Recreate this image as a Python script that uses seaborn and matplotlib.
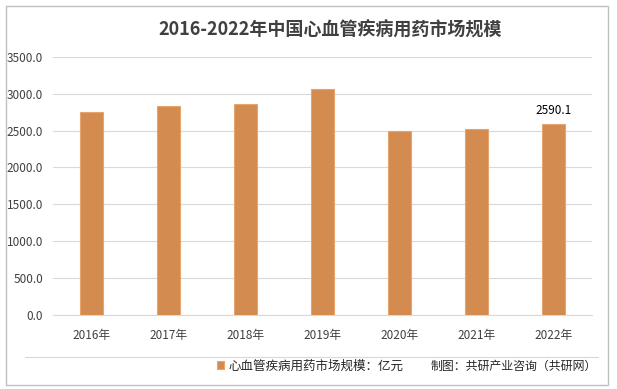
import matplotlib
matplotlib.use("Agg")
import matplotlib.pyplot as plt
import seaborn as sns
import pandas as pd
from matplotlib.patches import Rectangle

years = ["2016年", "2017年", "2018年", "2019年", "2020年", "2021年", "2022年"]
values = [2750.0, 2830.0, 2855.0, 3065.0, 2490.0, 2525.0, 2590.1]
labeled_year = "2022年"
y_ticks = [0, 500, 1000, 1500, 2000, 2500, 3000, 3500]
title = "2016-2022年中国心血管疾病用药市场规模"
series_name = "心血管疾病用药市场规模：亿元"
source = "制图：共研产业咨询（共研网）"

sns.set_theme(style="white")
plt.rcParams["font.family"] = ["Noto Sans CJK SC", "DejaVu Sans"]

df = pd.DataFrame({"year": years, "value": values})

fig = plt.figure(figsize=(6.17, 3.89), dpi=100)
ax = fig.add_axes([0.086, 0.190, 0.873, 0.664])

bar_color = "#D38B4F"
sns.barplot(data=df, x="year", y="value", color=bar_color, width=0.3,
            edgecolor="#E6A56E", linewidth=0.8, ax=ax, label=series_name,
            saturation=1, zorder=3)
handles, labels = ax.get_legend_handles_labels()
if ax.get_legend() is not None:
    ax.get_legend().remove()

ax.set_ylim(0, 3500)
ax.set_yticks(y_ticks)
ax.set_yticklabels([f"{v:.1f}" for v in y_ticks], fontsize=8.5, color="#404040")
ax.set_xlim(-0.5, len(years) - 0.5)
ax.tick_params(axis="x", labelsize=8.5, colors="#404040", length=0, pad=10)
ax.tick_params(axis="y", length=0, pad=7)
ax.set_xlabel("")
ax.set_ylabel("")
ax.grid(axis="y", color="#D9D9D9", linewidth=0.8, zorder=0)
for s in ["left", "right", "top"]:
    ax.spines[s].set_visible(False)
ax.spines["bottom"].set_color("#D9D9D9")
ax.spines["bottom"].set_linewidth(0.8)

idx = years.index(labeled_year)
ax.text(idx, values[idx] + 90, f"{values[idx]:.1f}", ha="center", va="bottom",
        fontsize=8.5, color="#000000")

fig.text(0.535, 0.923, title, ha="center", va="center", fontsize=13,
         fontweight="bold", color="#404040")

# legend
fig.legend(handles[:1], [series_name], loc="center left",
           bbox_to_anchor=(0.352, 0.059), frameon=False, fontsize=9,
           handlelength=0.55, handleheight=0.55, handletextpad=0.35,
           borderpad=0, borderaxespad=0, labelcolor="#262626")
fig.text(0.697, 0.059, source, ha="left", va="center", fontsize=8.6, color="#262626")

# separator line and outer border
fig.add_artist(plt.Line2D([0.0405, 0.969], [0.082, 0.082], transform=fig.transFigure,
                          color="#D9D9D9", linewidth=0.8))
fig.add_artist(Rectangle((0.0097, 0.0103), 0.976, 0.974, transform=fig.transFigure,
                         fill=False, edgecolor="#BFBFBF", linewidth=1))

fig.savefig("out.png", dpi=100)
